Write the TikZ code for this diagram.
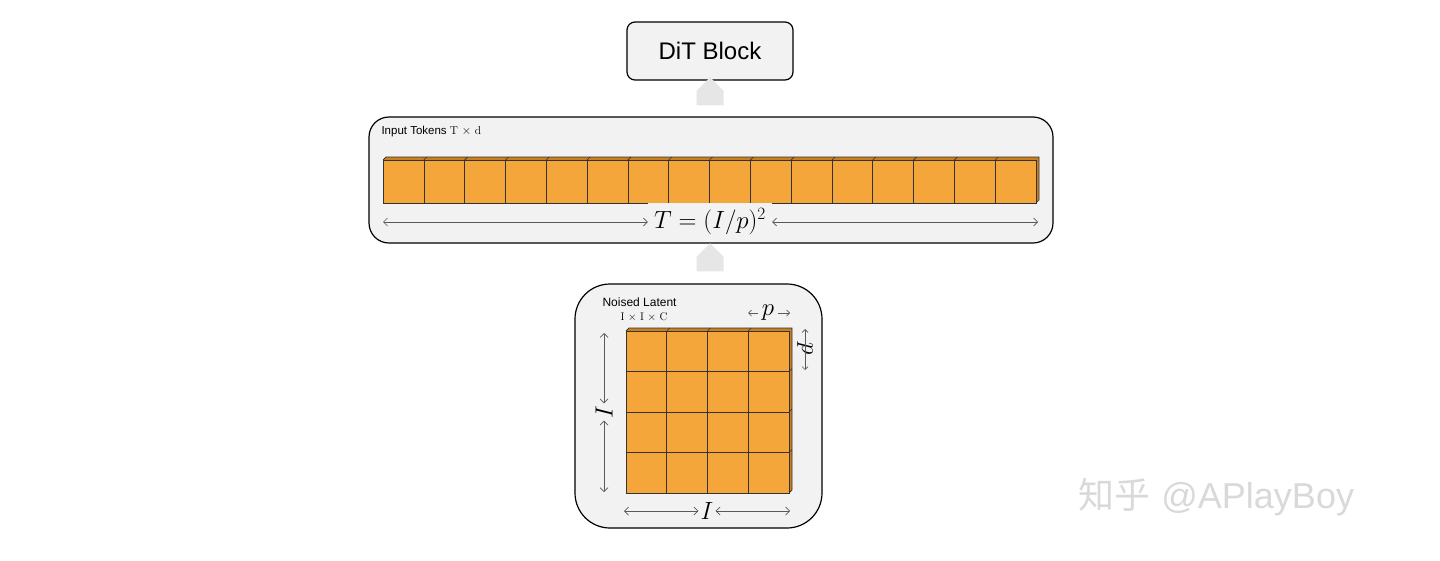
\documentclass[tikz,border=0pt]{standalone}
\usepackage{fontspec}
\setsansfont{Liberation Sans}
\newfontfamily\cjk{Noto Sans CJK SC}
\usetikzlibrary{arrows.meta,shapes.arrows}
\definecolor{boxbg}{HTML}{F2F2F2}
\definecolor{tok}{HTML}{F4A63B}
\definecolor{tokdark}{HTML}{C9801F}
\definecolor{arr}{HTML}{E6E6E6}
\tikzset{
 panel/.style={draw=black,line width=1.2pt,fill=boxbg,rounded corners=#1},
 cell/.style={draw=black!80,line width=0.6pt,fill=tok},
 dim/.style={{Straight Barb[length=4pt]}-{Straight Barb[length=4pt]},draw=black!65,line width=0.7pt},
 fat/.style={fill=arr,draw=none},
}
\begin{document}
\begin{tikzpicture}[x=1pt,y=-1pt]
\useasboundingbox (0,0) rectangle (1440,560);
% DiT block
\node[panel=8pt,minimum width=166pt,minimum height=58pt,font=\sffamily\fontsize{24}{28}\selectfont] (dit) at (710,51) {DiT Block};
% tokens panel
\draw[panel=20pt] (369,117) rectangle (1053,243);
\node[anchor=west,font=\sffamily\fontsize{11.5}{13}\selectfont] (tl) at (378,132) {Input Tokens \rmfamily T $\times$ d};
\fill[tokdark] (383,160) -- (386,157) -- (1039,157) -- (1039,200) -- (1036,203) -- cycle;
\draw[black!80,line width=0.6pt] (383,160) -- (386,157) -- (1039,157) -- (1039,200) -- (1036,203);
\foreach \i in {0,...,15}{
 \draw[cell] ({383+\i*40.8125},160) rectangle ({383+(\i+1)*40.8125},203);
 \draw[black!80,line width=0.6pt] ({383+\i*40.8125},160) -- ({386+\i*40.8125},157);
}
\node[fill=boxbg,inner sep=6pt,font=\fontsize{26}{30}\selectfont] (tf) at (710,222) {$T=(I/p)^2$};
\coordinate (tla) at (383,222); \coordinate (tra) at (1038,222);
\draw[dim] (tla) -- (tf.west);
\draw[dim] (tra) -- (tf.east);
% latent panel
\draw[panel=35pt] (575,284) rectangle (822,528);
\node[anchor=west,font=\sffamily\fontsize{12}{14}\selectfont] (nl) at (599,302) {Noised Latent};
\node[anchor=west,font=\fontsize{11}{13}\selectfont] (iic) at (617,317) {I $\times$ I $\times$ C};
\fill[tokdark] (626,331) -- (629,328) -- (792,328) -- (792,490) -- (789,493) -- cycle;
\draw[black!80,line width=0.6pt] (626,331) -- (629,328) -- (792,328) -- (792,490) -- (789,493);
\foreach \i in {0,...,3}{
 \foreach \j in {0,...,3}{
  \draw[cell] ({626+\i*40.75},{331+\j*40.5}) rectangle ({626+(\i+1)*40.75},{331+(\j+1)*40.5});
 }
 \draw[black!80,line width=0.6pt] ({626+\i*40.75},331) -- ({629+\i*40.75},328);
 \draw[black!80,line width=0.6pt] (789,{331+(\i+1)*40.5}) -- (792,{328+(\i+1)*40.5});
}
% dims
\node[font=\fontsize{24}{26}\selectfont] (ph) at (768,313) {$p$};
\coordinate (ph1) at (748,313); \coordinate (ph2) at (790,313);
\draw[dim,-{Straight Barb[length=3pt]}] (ph.west) -- (ph1);
\draw[dim,-{Straight Barb[length=3pt]}] (ph.east) -- (ph2);
\node[rotate=-90,font=\fontsize{24}{26}\selectfont] (pv) at (805,349) {$p$};
\coordinate (pv1) at (805,329); \coordinate (pv2) at (805,370);
\draw[dim,-{Straight Barb[length=3pt]}] (pv.east) -- (pv1);
\draw[dim,-{Straight Barb[length=3pt]}] (pv.west) -- (pv2);
\node[fill=boxbg,inner sep=2pt,rotate=90,font=\fontsize{26}{28}\selectfont] (il) at (604,412) {$I$};
\coordinate (il1) at (604,333); \coordinate (il2) at (604,492);
\draw[dim] (il.east) -- (il1); \draw[dim] (il.west) -- (il2);
\node[fill=boxbg,inner sep=2pt,font=\fontsize{26}{28}\selectfont] (ib) at (707,511) {$I$};
\coordinate (ib1) at (624,511); \coordinate (ib2) at (790,511);
\draw[dim] (ib.west) -- (ib1); \draw[dim] (ib.east) -- (ib2);
% fat arrows
\node[fat,single arrow,shape border rotate=90,minimum height=28pt,minimum width=27pt,single arrow head extend=0pt,inner sep=0pt] (a1) at (710,98) {};
\node[fat,single arrow,shape border rotate=90,minimum height=28pt,minimum width=27pt,single arrow head extend=0pt,inner sep=0pt] (a2) at (710,264) {};
% watermark
\node[anchor=west,text=white!85!black,draw=none,font=\fontsize{36}{40}\selectfont] (wm) at (1075,497) {{\cjk 知乎} \sffamily @APlayBoy};
\end{tikzpicture}
\end{document}
